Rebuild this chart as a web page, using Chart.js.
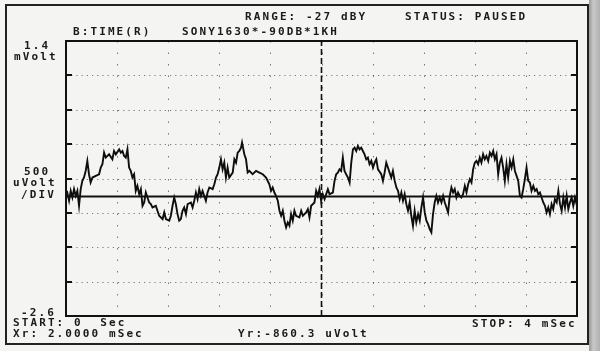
<!DOCTYPE html>
<html>
<head>
<meta charset="utf-8">
<script src="https://cdn.jsdelivr.net/npm/chart.js@4/dist/chart.umd.min.js"></script>
<style>
  html,body{margin:0;padding:0;background:#f4f4f2;}
  #wrap{position:relative;width:600px;height:351px;overflow:hidden;background:#f4f4f2;}
  #c{position:absolute;left:0;top:0;}
  .t{position:absolute;font-family:"DejaVu Sans Mono",monospace;font-size:11px;font-weight:bold;
     letter-spacing:2.1px;color:#1a1a1a;line-height:12px;white-space:pre;}
  #frame{position:absolute;left:5px;top:4px;width:580px;height:337px;border:2px solid #222;}
  #edge{position:absolute;left:589px;top:0;width:11px;height:351px;
        background:linear-gradient(to right,#9a9a9a,#c8c8c8 40%,#b0b0b0);}
</style>
</head>
<body>
<div id="wrap">
  <canvas id="c" width="600" height="351"></canvas>
  <div id="frame"></div>
  <div id="edge"></div>
  <div class="t" style="left:245px;top:11px">RANGE: -27 dBY</div>
  <div class="t" style="left:405px;top:11px">STATUS: PAUSED</div>
  <div class="t" style="left:73px;top:26px">B:TIME(R)</div>
  <div class="t" style="left:182px;top:26px">SONY1630*-90DB*1KH</div>
  <div class="t" style="left:24px;top:40px">1.4</div>
  <div class="t" style="left:14px;top:51px">mVolt</div>
  <div class="t" style="left:24px;top:166px">500</div>
  <div class="t" style="left:13px;top:177px">uVolt</div>
  <div class="t" style="left:21px;top:189px">/DIV</div>
  <div class="t" style="left:21px;top:307px">-2.6</div>
  <div class="t" style="left:13px;top:317px">START: 0  Sec</div>
  <div class="t" style="left:13px;top:328px">Xr: 2.0000 mSec</div>
  <div class="t" style="left:238px;top:328px">Yr:-860.3 uVolt</div>
  <div class="t" style="left:472px;top:318px">STOP: 4 mSec</div>
</div>
<script>
// ---- data (time in mSec, amplitude in mVolt) ----
const timeMs = [
0.000,0.010,0.024,0.037,0.050,0.063,0.076,0.089,0.102,0.115,0.128,0.141,0.154,0.167,0.180,0.193,0.207,0.233,0.259,0.272,
0.285,0.298,0.311,0.337,0.363,0.376,0.390,0.416,0.429,0.442,0.455,0.468,0.481,0.494,0.507,0.520,0.533,0.546,0.559,0.573,
0.586,0.599,0.612,0.625,0.638,0.651,0.664,0.677,0.703,0.716,0.729,0.756,0.769,0.782,0.808,0.821,0.834,0.847,0.860,0.873,
0.886,0.899,0.912,0.925,0.939,0.952,0.978,0.991,1.004,1.017,1.030,1.043,1.056,1.069,1.095,1.108,1.122,1.148,1.161,1.174,
1.187,1.200,1.213,1.226,1.239,1.252,1.265,1.278,1.305,1.318,1.331,1.344,1.357,1.370,1.378,1.396,1.409,1.422,1.435,1.461,
1.488,1.514,1.540,1.566,1.592,1.605,1.618,1.631,1.644,1.658,1.671,1.684,1.697,1.710,1.723,1.736,1.749,1.762,1.775,1.788,
1.801,1.827,1.841,1.854,1.880,1.893,1.906,1.919,1.945,1.958,1.971,1.984,1.997,2.010,2.024,2.037,2.050,
2.063,2.089,2.102,2.115,2.128,2.141,2.154,2.167,2.180,2.193,2.207,2.220,2.233,2.246,2.259,2.272,2.285,2.298,2.311,2.324,
2.337,2.350,2.363,2.376,2.390,2.403,2.416,2.429,2.442,2.468,2.481,2.494,2.507,2.520,2.533,2.546,2.559,2.573,2.586,2.599,
2.612,2.625,2.638,2.651,2.664,2.677,2.690,2.703,2.716,2.729,2.742,2.756,2.769,2.782,2.795,2.808,2.821,2.834,2.847,2.860,
2.873,2.886,2.899,2.912,2.925,2.939,2.952,2.965,2.978,2.991,3.004,3.017,3.030,3.043,3.056,3.069,3.082,3.095,3.108,3.122,
3.135,3.148,3.161,3.174,3.187,3.200,3.213,3.226,3.239,3.252,3.265,3.278,3.291,3.305,3.318,3.331,3.344,3.357,3.370,3.383,
3.396,3.409,3.422,3.435,3.448,3.461,3.475,3.488,3.501,3.514,3.527,3.540,3.553,3.566,3.579,3.592,3.605,3.618,3.631,3.644,
3.658,3.671,3.684,3.697,3.710,3.723,3.736,3.749,3.762,3.775,3.788,3.801,3.814,3.827,3.841,3.854,3.867,3.880,3.893,3.906,
3.919,3.932,3.945,3.958,3.971,3.984,3.997,4.000
];
const amplitudeMv = [
-0.830,-0.804,-0.924,-0.780,-0.876,-0.755,-0.852,-0.780,-0.997,-0.755,-0.635,-0.586,-0.490,-0.345,-0.538,-0.659,-0.586,-0.562,-0.538,-0.441,
-0.393,-0.224,-0.296,-0.248,-0.321,-0.200,-0.248,-0.176,-0.224,-0.200,-0.272,-0.296,-0.176,-0.441,-0.490,-0.586,-0.538,-0.780,-0.707,-0.828,
-0.755,-0.997,-0.949,-0.804,-0.876,-0.949,-0.973,-1.021,-0.997,-1.069,-1.142,-1.190,-1.094,-1.190,-1.214,-1.142,-0.997,-0.876,-0.973,-1.118,
-1.214,-1.190,-1.069,-1.021,-1.118,-0.973,-0.949,-1.021,-0.924,-0.804,-0.900,-0.755,-0.852,-0.780,-0.924,-0.804,-0.731,-0.755,-0.683,-0.586,
-0.538,-0.441,-0.321,-0.466,-0.369,-0.586,-0.441,-0.586,-0.514,-0.321,-0.369,-0.224,-0.200,-0.152,-0.079,-0.248,-0.321,-0.514,-0.490,-0.538,
-0.490,-0.514,-0.538,-0.586,-0.683,-0.780,-0.731,-0.804,-0.852,-0.924,-1.069,-1.142,-1.069,-1.214,-1.311,-1.239,-1.287,-1.118,-1.214,-1.069,
-1.142,-1.166,-1.069,-1.142,-1.094,-1.045,-1.166,-0.997,-0.949,-0.780,-0.852,-0.755,-0.924,-0.828,-0.900,-0.828,-0.755,
-0.828,-0.804,-0.635,-0.538,-0.514,-0.466,-0.490,-0.296,-0.490,-0.538,-0.586,-0.659,-0.369,-0.176,-0.152,-0.200,-0.127,-0.176,-0.152,-0.200,
-0.248,-0.321,-0.296,-0.393,-0.345,-0.441,-0.369,-0.321,-0.466,-0.538,-0.635,-0.514,-0.369,-0.441,-0.514,-0.586,-0.490,-0.635,-0.731,-0.780,
-0.900,-0.804,-0.924,-0.828,-0.973,-1.069,-0.949,-1.142,-1.287,-1.069,-1.239,-1.118,-1.214,-1.021,-0.876,-1.094,-1.214,-1.263,-1.335,-1.383,
-1.118,-0.949,-0.852,-0.949,-0.876,-0.949,-0.852,-0.949,-1.021,-1.094,-0.852,-0.731,-0.804,-0.755,-0.876,-0.804,-0.852,-0.876,-0.828,-0.707,
-0.804,-0.683,-0.610,-0.659,-0.466,-0.369,-0.345,-0.393,-0.296,-0.369,-0.248,-0.321,-0.272,-0.345,-0.224,-0.272,-0.200,-0.321,-0.248,-0.538,
-0.369,-0.296,-0.441,-0.635,-0.393,-0.586,-0.345,-0.441,-0.321,-0.490,-0.562,-0.635,-0.852,-0.876,-0.755,-0.610,-0.441,-0.635,-0.659,-0.780,
-0.707,-0.780,-0.755,-0.828,-0.804,-0.876,-0.949,-0.997,-1.094,-1.021,-1.118,-0.973,-1.045,-0.900,-0.949,-0.780,-0.973,-1.069,-0.876,-1.021,
-0.852,-1.045,-0.949,-0.876,-0.997,-0.876,-0.973,-0.950
];
const xTicksMs = [0,0.4,0.8,1.2,1.6,2.0,2.4,2.8,3.2,3.6,4.0];
const yTicksMv = [-2.6,-2.1,-1.6,-1.1,-0.6,-0.1,0.4,0.9,1.4];
const cursorXMs = 2.0;
const cursorYMv = -0.8603;

const wave = timeMs.map((t,i)=>({x:t,y:amplitudeMv[i]}));

const scopePlugin = {
  id:'scope',
  beforeDatasetsDraw(chart){
    const {ctx, chartArea:a, scales:{x,y}} = chart;
    ctx.save();
    ctx.strokeStyle='rgba(40,40,40,0.6)';
    ctx.lineWidth=1;
    ctx.setLineDash([1.2,4]);
    yTicksMv.slice(1,-1).forEach(v=>{
      const py=Math.round(y.getPixelForValue(v))+0.5;
      ctx.beginPath();ctx.moveTo(a.left,py);ctx.lineTo(a.right,py);ctx.stroke();
    });
    ctx.setLineDash([1.5,10]);
    xTicksMs.slice(1,-1).forEach(v=>{
      const px=Math.round(x.getPixelForValue(v))+0.5;
      ctx.beginPath();ctx.moveTo(px,a.top);ctx.lineTo(px,a.bottom);ctx.stroke();
    });
    ctx.setLineDash([]);
    ctx.strokeStyle='#111';ctx.lineWidth=2;
    yTicksMv.forEach(v=>{
      const py=Math.round(y.getPixelForValue(v));
      ctx.beginPath();ctx.moveTo(a.left,py);ctx.lineTo(a.left+6,py);ctx.stroke();
      ctx.beginPath();ctx.moveTo(a.right,py);ctx.lineTo(a.right-6,py);ctx.stroke();
    });
    ctx.restore();
  },
  afterDatasetsDraw(chart){
    const {ctx, chartArea:a} = chart;
    ctx.save();
    ctx.strokeStyle='#111';ctx.lineWidth=2;
    ctx.strokeRect(a.left,a.top,a.right-a.left,a.bottom-a.top);
    ctx.restore();
  }
};

new Chart(document.getElementById('c'),{
  type:'scatter',
  data:{datasets:[
    {data:[{x:0,y:cursorYMv},{x:4,y:cursorYMv}],showLine:true,borderColor:'#111',borderWidth:2,pointRadius:0},
    {data:[{x:cursorXMs,y:-2.6},{x:cursorXMs,y:1.4}],showLine:true,borderColor:'#111',borderWidth:1.6,borderDash:[6,3],pointRadius:0},
    {data:wave,showLine:true,borderColor:'#0e0e0e',borderWidth:1.9,pointRadius:0,tension:0}
  ]},
  options:{
    responsive:false,animation:false,
    layout:{padding:{left:66,right:23,top:41,bottom:35}},
    plugins:{legend:{display:false},tooltip:{enabled:false}},
    scales:{
      x:{type:'linear',min:0,max:4,display:false},
      y:{type:'linear',min:-2.6,max:1.4,display:false}
    }
  },
  plugins:[scopePlugin]
});
</script>
</body>
</html>
